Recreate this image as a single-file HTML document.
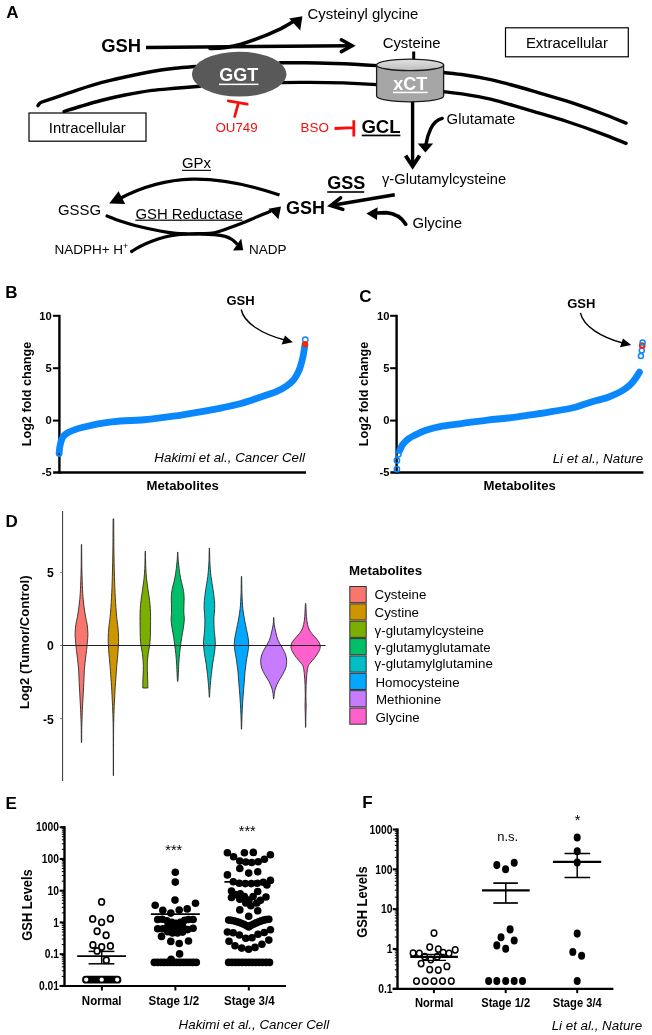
<!DOCTYPE html>
<html lang="en">
<head>
<meta charset="utf-8">
<title>Figure</title>
<style>
html,body{margin:0;padding:0;background:#fff;}
body{width:652px;height:1035px;overflow:hidden;}
svg{display:block;font-family:'Liberation Sans', sans-serif;}
</style>
</head>
<body>
<svg width="652" height="1035" viewBox="0 0 652 1035">
<rect x="0" y="0" width="652" height="1035" fill="#fff"/>
<g id="panelA">
<text x="6.2" y="17.9" font-size="17" font-weight="bold">A</text>
<path d="M37.9 105.6C38.35 105.1 39.22 103.43 40.6 102.6C41.98 101.77 43.65 101.48 46.2 100.6C48.75 99.72 51.1 98.93 55.9 97.3C60.7 95.67 67.48 93.23 75 90.8C82.52 88.37 92.67 85 101 82.7C109.33 80.4 116.5 78.87 125 77C133.5 75.13 143.67 72.95 152 71.5C160.33 70.05 167.67 69.13 175 68.3C182.33 67.47 192.5 66.8 196 66.5" fill="none" stroke="#000" stroke-width="3.4" stroke-linecap="round" stroke-linejoin="round"/>
<path d="M64 111.5C66.67 110.67 73.83 108.33 80 106.5C86.17 104.67 93.5 102.42 101 100.5C108.5 98.58 116.5 96.68 125 95C133.5 93.32 143.67 91.52 152 90.4C160.33 89.28 167 88.98 175 88.3C183 87.62 195.83 86.63 200 86.3" fill="none" stroke="#000" stroke-width="3.4" stroke-linecap="round" stroke-linejoin="round"/>
<path d="M280 62.8 L300 62.8 C320 62.6 350 64 377 65.6" fill="none" stroke="#000" stroke-width="3.4" stroke-linecap="round" stroke-linejoin="round"/>
<path d="M280 82.6 L300 82.4 C320 82.2 350 82.8 377 84.6" fill="none" stroke="#000" stroke-width="3.4" stroke-linecap="round" stroke-linejoin="round"/>
<path d="M443.6 72.5C447.17 72.92 457.37 73.87 465 75C472.63 76.13 481.9 77.72 489.4 79.3C496.9 80.88 502.7 82.53 510 84.5C517.3 86.47 523.7 88.32 533.2 91.1C542.7 93.88 555.75 97.55 567 101.2C578.25 104.85 590.87 109.35 600.7 113C610.53 116.65 621.78 121.42 626 123.1" fill="none" stroke="#000" stroke-width="3.4" stroke-linecap="round" stroke-linejoin="round"/>
<path d="M443.6 91.6C447.17 92.07 457.37 93.18 465 94.4C472.63 95.62 481.9 97.22 489.4 98.9C496.9 100.58 502.7 102.43 510 104.5C517.3 106.57 523.7 108.47 533.2 111.3C542.7 114.13 555.75 117.83 567 121.5C578.25 125.17 590.87 129.65 600.7 133.3C610.53 136.95 621.78 141.72 626 143.4" fill="none" stroke="#000" stroke-width="3.4" stroke-linecap="round" stroke-linejoin="round"/>
<text x="101.2" y="52.4" font-size="18.4" font-weight="bold">GSH</text>
<path d="M146 47.5 L350.5 45.7" fill="none" stroke="#000" stroke-width="3.4"/>
<path d="M341.4 39.8 L352 45.7 L341.4 51.6" fill="none" stroke="#000" stroke-width="3.6" stroke-linecap="round" stroke-linejoin="miter"/>
<path d="M210 48.4 C222 48.6 232 46.8 241 44.2 C256 39.5 270 34 281 28.6 C286 26 290 23.5 294 21" fill="none" stroke="#000" stroke-width="3.6" stroke-linecap="round"/>
<path d="M302.4 16.2 L289.2 18.6 L300.2 30.4 Z" fill="#000"/>
<text x="307.5" y="19.2" font-size="14.9">Cysteinyl glycine</text>
<ellipse cx="239.2" cy="74.2" rx="47.2" ry="22.4" fill="#595959"/>
<text x="238.8" y="81" font-size="18" font-weight="bold" text-anchor="middle" fill="#fff">GGT</text>
<rect x="219" y="83.6" width="39.5" height="1.5" fill="#fff"/>
<path d="M228.2 100.9 L247.2 104.2 M238.5 102.7 L234.7 116.5" fill="none" stroke="#f80c0c" stroke-width="2.8" stroke-linecap="round"/>
<text x="215.5" y="131.8" font-size="13.3" fill="#f80c0c">OU749</text>
<text x="300.6" y="132.3" font-size="13.4" fill="#f80c0c">BSO</text>
<path d="M334.5 128.5 L353.4 127.6 M353.8 120.2 L353.8 136.6" fill="none" stroke="#f80c0c" stroke-width="2.8"/>
<text x="361.4" y="132.7" font-size="18.6" font-weight="bold">GCL</text>
<rect x="361.8" y="134.6" width="38.6" height="1.7" fill="#000"/>
<text x="411.6" y="48.4" font-size="14.9" text-anchor="middle">Cysteine</text>
<line x1="413.7" y1="51.5" x2="413.7" y2="60" stroke="#000" stroke-width="3"/>
<line x1="412.6" y1="99" x2="412.6" y2="165.5" stroke="#000" stroke-width="3.4"/>
<path d="M405.6 155.6 L412.6 166.2 L419.6 155.6" fill="none" stroke="#000" stroke-width="3.8" stroke-linecap="butt" stroke-linejoin="miter" stroke-miterlimit="10"/>
<defs><linearGradient id="cyltop" x1="0" y1="0" x2="0" y2="1"><stop offset="0" stop-color="#e2e2e2"/><stop offset="1" stop-color="#bdbdbd"/></linearGradient></defs>
<path d="M376.6 64.9 L376.6 96 A33.5 5.8 0 0 0 443.6 96 L443.6 64.9 Z" fill="#a6a6a6" stroke="#1a1a1a" stroke-width="1.3"/>
<ellipse cx="410.1" cy="64.9" rx="33.5" ry="5.8" fill="url(#cyltop)" stroke="#1a1a1a" stroke-width="1.3"/>
<text x="410.2" y="89.5" font-size="18" font-weight="bold" text-anchor="middle" fill="#fff">xCT</text>
<rect x="393" y="91.7" width="34.6" height="1.5" fill="#fff"/>
<rect x="505.5" y="27.8" width="122.8" height="29" fill="#fff" stroke="#000" stroke-width="1.2"/>
<text x="566.9" y="47.8" font-size="14.9" text-anchor="middle">Extracellular</text>
<rect x="29" y="113" width="117" height="28.2" fill="#fff" stroke="#000" stroke-width="1.2"/>
<text x="87.3" y="132.6" font-size="14.9" text-anchor="middle">Intracellular</text>
<text x="446.6" y="123.9" font-size="14.9">Glutamate</text>
<path d="M442.2 118.4 C436 120 432.6 124.6 430.6 129 C428.2 134 426.6 140 425.8 145" fill="none" stroke="#000" stroke-width="3.4" stroke-linecap="round"/>
<path d="M425.4 152.6 L417.8 143.6 L433.2 143.6 Z" fill="#000"/>
<text x="382" y="184" font-size="14.7">γ-Glutamylcysteine</text>
<path d="M394.8 194.8 L332.4 205.2" fill="none" stroke="#000" stroke-width="3.4"/>
<path d="M340.6 197.8 L330.8 205.5 L342.8 209.4" fill="none" stroke="#000" stroke-width="3.6" stroke-linecap="round" stroke-linejoin="miter"/>
<text x="327.2" y="188.7" font-size="18" font-weight="bold">GSS</text>
<rect x="327.2" y="191.2" width="37" height="1.6" fill="#000"/>
<text x="286" y="213.8" font-size="18" font-weight="bold">GSH</text>
<text x="412.4" y="228.2" font-size="14.9">Glycine</text>
<path d="M405.8 224.2 C402 218 394.6 213.4 386 212.6 L377 213" fill="none" stroke="#000" stroke-width="3.6" stroke-linecap="round"/>
<path d="M366.4 213.4 L377.6 207.2 L377 220 Z" fill="#000"/>
<text x="182" y="167.8" font-size="14.9">GPx</text>
<rect x="182" y="169.8" width="29" height="1.1" fill="#000"/>
<path d="M279.5 195 C250 185 222 178.5 192 179.2 C165 180 140 188 120 198.5" fill="none" stroke="#000" stroke-width="3.2" stroke-linecap="butt"/>
<path d="M109.2 203.4 L118.6 191.2 L125.2 204 Z" fill="#000"/>
<text x="58" y="215" font-size="14.9">GSSG</text>
<text x="135.4" y="218.7" font-size="14.9">GSH Reductase</text>
<rect x="135.4" y="219.6" width="107" height="1.2" fill="#000"/>
<text x="54.4" y="253.8" font-size="13.5">NADPH+ H<tspan font-size="9" dy="-5">+</tspan></text>
<text x="249" y="253.8" font-size="13.5">NADP</text>
<path d="M107 216C109.17 216.83 115.33 219.42 120 221C124.67 222.58 128.33 223.83 135 225.5C141.67 227.17 153.17 229.68 160 231C166.83 232.32 171.27 232.9 176 233.4C180.73 233.9 184.4 233.9 188.4 234C192.4 234.1 195.7 233.9 200 234C204.3 234.1 210 234.2 214.2 234.6C218.4 235 222.23 235.58 225.2 236.4C228.17 237.22 230.12 238.32 232 239.5C233.88 240.68 235.75 242.83 236.5 243.5" fill="none" stroke="#000" stroke-width="3.2" stroke-linecap="round"/>
<path d="M243.2 250.2 L233 250.4 L241.2 238.4 Z" fill="#000"/>
<path d="M131.6 251.5C133 250.67 136.63 248.2 140 246.5C143.37 244.8 147.63 242.88 151.8 241.3C155.97 239.72 160.63 238.12 165 237C169.37 235.88 174.1 235.1 178 234.6C181.9 234.1 184.73 234.17 188.4 234C192.07 233.83 195.7 233.82 200 233.6C204.3 233.38 209.38 233.62 214.2 232.7C219.02 231.78 224 229.78 228.9 228.1C233.8 226.42 238.7 224.58 243.6 222.6C248.5 220.62 253.9 218.03 258.3 216.2C262.7 214.37 268.05 212.37 270 211.6" fill="none" stroke="#000" stroke-width="3.2" stroke-linecap="round"/>
<path d="M281 206.4 L268.4 208.8 L278.4 219.2 Z" fill="#000"/>
</g>
<g id="panelBC">
<text x="5.3" y="298.2" font-size="17" font-weight="bold">B</text>
<line x1="59.4" y1="314.8" x2="59.4" y2="473.7" stroke="#000" stroke-width="2.4"/>
<line x1="53.1" y1="472.5" x2="306" y2="472.5" stroke="#000" stroke-width="2.4"/>
<line x1="52.9" y1="315.8" x2="59.4" y2="315.8" stroke="#000" stroke-width="2"/>
<text x="51.7" y="319.6" font-size="11.2" font-weight="bold" text-anchor="end">10</text>
<line x1="52.9" y1="368.2" x2="59.4" y2="368.2" stroke="#000" stroke-width="2"/>
<text x="51.7" y="372" font-size="11.2" font-weight="bold" text-anchor="end">5</text>
<line x1="52.9" y1="420.6" x2="59.4" y2="420.6" stroke="#000" stroke-width="2"/>
<text x="51.7" y="424.4" font-size="11.2" font-weight="bold" text-anchor="end">0</text>
<text x="51.7" y="476.3" font-size="11.2" font-weight="bold" text-anchor="end">-5</text>
<text transform="translate(31.1 394) rotate(-90) scale(0.95 1)" font-size="13.3" font-weight="bold" text-anchor="middle" >Log2 fold change</text>
<path d="M59.1 453.5C59.22 452.42 59.38 449.3 59.8 447C60.22 444.7 60.82 441.67 61.6 439.7C62.38 437.73 63.33 436.43 64.5 435.2C65.67 433.97 66.85 433.23 68.6 432.3C70.35 431.37 72.58 430.43 75 429.6C77.42 428.77 78.98 428.3 83.1 427.3C87.22 426.3 93.48 424.65 99.7 423.6C105.92 422.55 113.5 421.6 120.4 421C127.3 420.4 134.2 420.57 141.1 420C148 419.43 154.9 418.47 161.8 417.6C168.7 416.73 175.6 415.83 182.5 414.8C189.4 413.77 196.62 412.57 203.2 411.4C209.78 410.23 215.87 409.07 222 407.8C228.13 406.53 234.95 405.12 240 403.8C245.05 402.48 248.22 401.23 252.3 399.9C256.38 398.57 260.42 397.23 264.5 395.8C268.58 394.37 273.12 392.93 276.8 391.3C280.48 389.67 283.73 388 286.6 386C289.47 384 291.95 381.85 294 379.3C296.05 376.75 297.57 373.77 298.9 370.7C300.23 367.63 301.18 363.97 302 360.9C302.82 357.83 303.33 354.87 303.8 352.3C304.27 349.73 304.63 346.63 304.8 345.5" fill="none" stroke="#0a88fb" stroke-width="6.8" stroke-linecap="round" stroke-linejoin="round"/>
<circle cx="305.3" cy="339.7" r="2.7" fill="#fff" stroke="#0a88fb" stroke-width="1.4"/>
<circle cx="305.1" cy="344.2" r="3.1" fill="#f5260a"/>
<circle cx="59.1" cy="454" r="0.9" fill="#123"/>
<text x="226.4" y="304.8" font-size="13" font-weight="bold">GSH</text>
<path d="M241.2 309.5 C244 323 262 334 284 339.8" fill="none" stroke="#000" stroke-width="1.4"/>
<path d="M292.8 342.3 L281.6 344.4 L285 335.4 Z" fill="#000"/>
<text x="304.9" y="462" font-size="13.35" font-style="italic" text-anchor="end">Hakimi et al., Cancer Cell</text>
<text x="182.7" y="490.4" font-size="13.15" font-weight="bold" text-anchor="middle">Metabolites</text>
<text x="359.3" y="302.4" font-size="17" font-weight="bold">C</text>
<line x1="396.6" y1="314.8" x2="396.6" y2="473.7" stroke="#000" stroke-width="2.4"/>
<line x1="390.3" y1="472.5" x2="643.4" y2="472.5" stroke="#000" stroke-width="2.4"/>
<line x1="390.1" y1="315.8" x2="396.6" y2="315.8" stroke="#000" stroke-width="2"/>
<text x="389.4" y="319.6" font-size="11.2" font-weight="bold" text-anchor="end">10</text>
<line x1="390.1" y1="368.2" x2="396.6" y2="368.2" stroke="#000" stroke-width="2"/>
<text x="389.4" y="372" font-size="11.2" font-weight="bold" text-anchor="end">5</text>
<line x1="390.1" y1="420.6" x2="396.6" y2="420.6" stroke="#000" stroke-width="2"/>
<text x="389.4" y="424.4" font-size="11.2" font-weight="bold" text-anchor="end">0</text>
<text x="389.4" y="476.3" font-size="11.2" font-weight="bold" text-anchor="end">-5</text>
<text transform="translate(368.4 394) rotate(-90) scale(0.95 1)" font-size="13.3" font-weight="bold" text-anchor="middle" >Log2 fold change</text>
<path d="M400.6 448.8C400.93 448.1 401.78 445.83 402.6 444.6C403.42 443.37 404.43 442.43 405.5 441.4C406.57 440.37 407.63 439.35 409 438.4C410.37 437.45 410.87 437.05 413.7 435.7C416.53 434.35 421.23 431.88 426 430.3C430.77 428.72 436.17 427.35 442.3 426.2C448.43 425.05 455.28 424.42 462.8 423.4C470.32 422.38 479.88 421 487.4 420.1C494.92 419.2 501.08 418.82 507.9 418C514.72 417.18 521.48 416.18 528.3 415.2C535.12 414.22 541.52 413.3 548.8 412.1C556.08 410.9 566.08 409.3 572 408C577.92 406.7 580.22 405.53 584.3 404.3C588.38 403.07 592.42 401.82 596.5 400.6C600.58 399.38 604.7 398.53 608.8 397C612.9 395.47 617.62 393.35 621.1 391.4C624.58 389.45 627.25 387.55 629.7 385.3C632.15 383.05 634.18 380.08 635.8 377.9C637.42 375.72 638.8 373.15 639.4 372.2" fill="none" stroke="#0a88fb" stroke-width="6.8" stroke-linecap="round" stroke-linejoin="round"/>
<circle cx="396.9" cy="469.2" r="2.6" fill="none" stroke="#0a88fb" stroke-width="1.5"/>
<circle cx="396.9" cy="460.4" r="2.6" fill="none" stroke="#0a88fb" stroke-width="1.5"/>
<circle cx="398.4" cy="454.3" r="2.6" fill="none" stroke="#0a88fb" stroke-width="1.5"/>
<circle cx="399.6" cy="450.5" r="2.6" fill="none" stroke="#0a88fb" stroke-width="1.5"/>
<circle cx="640.9" cy="356" r="2.5" fill="#fff" stroke="#0a88fb" stroke-width="1.5"/>
<circle cx="641.8" cy="350.6" r="2.5" fill="#fff" stroke="#0a88fb" stroke-width="1.5"/>
<circle cx="642.2" cy="345.6" r="2.3" fill="#fff" stroke="#f5260a" stroke-width="2.2"/>
<circle cx="642.6" cy="342.4" r="2.5" fill="none" stroke="#0a88fb" stroke-width="1.5"/>
<text x="567.2" y="308" font-size="13" font-weight="bold">GSH</text>
<path d="M580.4 312.8 C583.6 326.6 601 337 622.6 343" fill="none" stroke="#000" stroke-width="1.4"/>
<path d="M631.2 345 L620 347.3 L623 338.4 Z" fill="#000"/>
<text x="643.2" y="462.6" font-size="13.35" font-style="italic" text-anchor="end">Li et al., Nature</text>
<text x="519.7" y="490.4" font-size="13.15" font-weight="bold" text-anchor="middle">Metabolites</text>
</g>
<g id="panelD">
<text x="5.6" y="526.6" font-size="17" font-weight="bold">D</text>
<line x1="62.6" y1="511" x2="62.6" y2="781" stroke="#333" stroke-width="1"/>
<line x1="60.2" y1="572.4" x2="62.6" y2="572.4" stroke="#777" stroke-width="1"/>
<text x="53.8" y="577" font-size="12.2" font-weight="bold" text-anchor="end">5</text>
<line x1="60.2" y1="645.5" x2="62.6" y2="645.5" stroke="#777" stroke-width="1"/>
<text x="53.8" y="650.2" font-size="12.2" font-weight="bold" text-anchor="end">0</text>
<line x1="60.2" y1="718.6" x2="62.6" y2="718.6" stroke="#777" stroke-width="1"/>
<text x="53.8" y="724.2" font-size="12.2" font-weight="bold" text-anchor="end">-5</text>
<text transform="translate(29.3 642.2) rotate(-90)" font-size="13.1" font-weight="bold" text-anchor="middle" >Log2 (Tumor/Control)</text>
<path d="M81.35 544.5C81.33 547.08 81.29 555.58 81.25 560C81.21 564.42 81.23 566.05 81.1 571C80.96 575.95 80.72 584.37 80.44 589.7C80.16 595.03 79.89 598.57 79.4 603C78.91 607.43 78.08 612.75 77.5 616.3C76.92 619.85 76.3 621.43 75.9 624.3C75.5 627.17 75.13 630.4 75.1 633.5C75.07 636.6 75.52 640.45 75.7 642.9C75.88 645.35 75.9 645.55 76.2 648.2C76.5 650.85 77.1 655.27 77.5 658.8C77.9 662.33 78.32 665.42 78.6 669.4C78.88 673.38 78.98 678.27 79.2 682.7C79.42 687.13 79.67 691.57 79.9 696C80.13 700.43 80.4 704.87 80.6 709.3C80.8 713.73 80.98 718.82 81.1 722.6C81.22 726.38 81.26 728.68 81.3 732C81.34 735.32 81.34 740.75 81.35 742.5 L81.65 742.5C81.66 740.75 81.66 735.32 81.7 732C81.74 728.68 81.78 726.38 81.9 722.6C82.02 718.82 82.2 713.73 82.4 709.3C82.6 704.87 82.87 700.43 83.1 696C83.33 691.57 83.58 687.13 83.8 682.7C84.02 678.27 84.12 673.38 84.4 669.4C84.68 665.42 85.1 662.33 85.5 658.8C85.9 655.27 86.5 650.85 86.8 648.2C87.1 645.55 87.12 645.35 87.3 642.9C87.48 640.45 87.93 636.6 87.9 633.5C87.87 630.4 87.5 627.17 87.1 624.3C86.7 621.43 86.08 619.85 85.5 616.3C84.92 612.75 84.09 607.43 83.6 603C83.11 598.57 82.84 595.03 82.56 589.7C82.28 584.37 82.04 575.95 81.9 571C81.77 566.05 81.79 564.42 81.75 560C81.71 555.58 81.67 547.08 81.65 544.5 Z" fill="#F8766D" stroke="#2b2b2b" stroke-width="0.9" stroke-linejoin="round"/>
<path d="M113.1 518.8C113.08 521.5 113.03 529.8 113 535C112.97 540.2 113.01 543.1 112.9 550C112.79 556.9 112.57 568.45 112.34 576.4C112.11 584.35 111.86 591.05 111.5 597.7C111.14 604.35 110.63 611.43 110.2 616.3C109.77 621.17 109.23 623.37 108.9 626.9C108.57 630.43 108.28 634.4 108.2 637.5C108.12 640.6 108.28 642.83 108.4 645.5C108.52 648.17 108.65 650.4 108.9 653.5C109.15 656.6 109.6 660.57 109.9 664.1C110.2 667.63 110.38 670.27 110.7 674.7C111.02 679.13 111.48 685.38 111.8 690.7C112.12 696.02 112.38 701.28 112.6 706.6C112.82 711.92 112.99 717.03 113.1 722.6C113.21 728.17 113.22 731.15 113.25 740C113.28 748.85 113.29 769.75 113.3 775.7 L113.5 775.7C113.51 769.75 113.52 748.85 113.55 740C113.58 731.15 113.59 728.17 113.7 722.6C113.81 717.03 113.98 711.92 114.2 706.6C114.42 701.28 114.68 696.02 115 690.7C115.32 685.38 115.78 679.13 116.1 674.7C116.42 670.27 116.6 667.63 116.9 664.1C117.2 660.57 117.65 656.6 117.9 653.5C118.15 650.4 118.28 648.17 118.4 645.5C118.52 642.83 118.68 640.6 118.6 637.5C118.52 634.4 118.23 630.43 117.9 626.9C117.57 623.37 117.03 621.17 116.6 616.3C116.17 611.43 115.66 604.35 115.3 597.7C114.94 591.05 114.69 584.35 114.46 576.4C114.23 568.45 114.01 556.9 113.9 550C113.79 543.1 113.83 540.2 113.8 535C113.77 529.8 113.72 521.5 113.7 518.8 Z" fill="#CD9600" stroke="#2b2b2b" stroke-width="0.9" stroke-linejoin="round"/>
<path d="M145.15 551.2C145.12 552.67 145.06 557.12 145 560C144.94 562.88 144.97 565.33 144.8 568.5C144.63 571.67 144.37 575.47 144 579C143.63 582.53 143.1 586.15 142.6 589.7C142.1 593.25 141.38 597.2 141 600.3C140.62 603.4 140.47 605.63 140.3 608.3C140.13 610.97 140.03 613.2 140 616.3C139.97 619.4 140.05 623.37 140.1 626.9C140.15 630.43 140.15 634.4 140.3 637.5C140.45 640.6 140.65 642.83 141 645.5C141.35 648.17 142.03 650.83 142.4 653.5C142.77 656.17 143.05 658.85 143.2 661.5C143.35 664.15 143.35 666.32 143.3 669.4C143.25 672.48 142.99 677.33 142.9 680C142.81 682.67 142.77 684.07 142.75 685.4C142.73 686.73 142.79 687.57 142.8 688 L147.8 688C147.81 687.57 147.87 686.73 147.85 685.4C147.83 684.07 147.79 682.67 147.7 680C147.61 677.33 147.35 672.48 147.3 669.4C147.25 666.32 147.25 664.15 147.4 661.5C147.55 658.85 147.83 656.17 148.2 653.5C148.57 650.83 149.25 648.17 149.6 645.5C149.95 642.83 150.15 640.6 150.3 637.5C150.45 634.4 150.45 630.43 150.5 626.9C150.55 623.37 150.63 619.4 150.6 616.3C150.57 613.2 150.47 610.97 150.3 608.3C150.13 605.63 149.98 603.4 149.6 600.3C149.22 597.2 148.5 593.25 148 589.7C147.5 586.15 146.97 582.53 146.6 579C146.23 575.47 145.97 571.67 145.8 568.5C145.63 565.33 145.66 562.88 145.6 560C145.54 557.12 145.48 552.67 145.45 551.2 Z" fill="#7CAE00" stroke="#2b2b2b" stroke-width="0.9" stroke-linejoin="round"/>
<path d="M177.55 552C177.51 553 177.41 556.17 177.3 558C177.19 559.83 177.18 560.37 176.9 563C176.62 565.63 176.08 570.68 175.6 573.8C175.12 576.92 174.58 579.05 174 581.7C173.42 584.35 172.55 587.03 172.1 589.7C171.65 592.37 171.38 594.15 171.3 597.7C171.22 601.25 171.63 607.45 171.6 611C171.57 614.55 171.05 616.35 171.1 619C171.15 621.65 171.47 623.82 171.9 626.9C172.33 629.98 173.22 634.4 173.7 637.5C174.18 640.6 174.45 642.83 174.8 645.5C175.15 648.17 175.49 650.4 175.8 653.5C176.11 656.6 176.42 660.57 176.64 664.1C176.86 667.63 176.96 671.82 177.1 674.7C177.24 677.58 177.43 680.28 177.5 681.4 L177.9 681.4C177.97 680.28 178.16 677.58 178.3 674.7C178.44 671.82 178.54 667.63 178.76 664.1C178.98 660.57 179.29 656.6 179.6 653.5C179.91 650.4 180.25 648.17 180.6 645.5C180.95 642.83 181.22 640.6 181.7 637.5C182.18 634.4 183.07 629.98 183.5 626.9C183.93 623.82 184.25 621.65 184.3 619C184.35 616.35 183.83 614.55 183.8 611C183.77 607.45 184.18 601.25 184.1 597.7C184.02 594.15 183.75 592.37 183.3 589.7C182.85 587.03 181.98 584.35 181.4 581.7C180.82 579.05 180.28 576.92 179.8 573.8C179.32 570.68 178.78 565.63 178.5 563C178.22 560.37 178.21 559.83 178.1 558C177.99 556.17 177.89 553 177.85 552 Z" fill="#00BE67" stroke="#2b2b2b" stroke-width="0.9" stroke-linejoin="round"/>
<path d="M209.25 548C209.22 549.33 209.16 553.5 209.1 556C209.04 558.5 209.12 559.6 208.9 563C208.68 566.4 208.33 571.95 207.8 576.4C207.27 580.85 206.27 585.72 205.7 589.7C205.13 593.68 204.67 597.2 204.4 600.3C204.13 603.4 204.02 605.18 204.1 608.3C204.18 611.42 204.82 615.45 204.9 619C204.98 622.55 204.82 626.07 204.6 629.6C204.38 633.13 203.77 637.55 203.6 640.2C203.43 642.85 203.47 643.28 203.6 645.5C203.73 647.72 203.97 650.42 204.4 653.5C204.83 656.58 205.68 660.47 206.2 664C206.72 667.53 207.12 671.13 207.5 674.7C207.88 678.27 208.25 682.52 208.5 685.4C208.75 688.28 208.88 690.02 209 692C209.12 693.98 209.21 696.42 209.25 697.3 L209.55 697.3C209.59 696.42 209.68 693.98 209.8 692C209.93 690.02 210.05 688.28 210.3 685.4C210.55 682.52 210.92 678.27 211.3 674.7C211.68 671.13 212.08 667.53 212.6 664C213.12 660.47 213.97 656.58 214.4 653.5C214.83 650.42 215.07 647.72 215.2 645.5C215.33 643.28 215.37 642.85 215.2 640.2C215.03 637.55 214.42 633.13 214.2 629.6C213.98 626.07 213.82 622.55 213.9 619C213.98 615.45 214.62 611.42 214.7 608.3C214.78 605.18 214.67 603.4 214.4 600.3C214.13 597.2 213.67 593.68 213.1 589.7C212.53 585.72 211.53 580.85 211 576.4C210.47 571.95 210.12 566.4 209.9 563C209.68 559.6 209.76 558.5 209.7 556C209.64 553.5 209.58 549.33 209.55 548 Z" fill="#00BFC4" stroke="#2b2b2b" stroke-width="0.9" stroke-linejoin="round"/>
<path d="M241.35 576.4C241.32 578 241.26 582.9 241.2 586C241.14 589.1 241.17 591.28 241 595C240.83 598.72 240.6 604.3 240.2 608.3C239.8 612.3 239.22 615.45 238.6 619C237.98 622.55 237.12 626.52 236.5 629.6C235.88 632.68 235.27 635.07 234.9 637.5C234.53 639.93 234.3 641.98 234.3 644.2C234.3 646.42 234.5 647.92 234.9 650.8C235.3 653.68 236.18 657.97 236.7 661.5C237.22 665.03 237.65 668.47 238 672C238.35 675.53 238.48 678.7 238.8 682.7C239.12 686.7 239.58 691.57 239.9 696C240.22 700.43 240.49 705.3 240.7 709.3C240.91 713.3 241.04 716.68 241.15 720C241.26 723.32 241.32 727.67 241.35 729.2 L241.65 729.2C241.68 727.67 241.74 723.32 241.85 720C241.96 716.68 242.09 713.3 242.3 709.3C242.51 705.3 242.78 700.43 243.1 696C243.42 691.57 243.88 686.7 244.2 682.7C244.52 678.7 244.65 675.53 245 672C245.35 668.47 245.78 665.03 246.3 661.5C246.82 657.97 247.7 653.68 248.1 650.8C248.5 647.92 248.7 646.42 248.7 644.2C248.7 641.98 248.47 639.93 248.1 637.5C247.73 635.07 247.12 632.68 246.5 629.6C245.88 626.52 245.02 622.55 244.4 619C243.78 615.45 243.2 612.3 242.8 608.3C242.4 604.3 242.17 598.72 242 595C241.83 591.28 241.86 589.1 241.8 586C241.74 582.9 241.68 578 241.65 576.4 Z" fill="#00A9FF" stroke="#2b2b2b" stroke-width="0.9" stroke-linejoin="round"/>
<path d="M273.5 617.6C273.45 618.72 273.52 621.87 273.2 624.3C272.88 626.73 272.23 629.55 271.6 632.2C270.97 634.85 270.52 637.53 269.4 640.2C268.28 642.87 266.18 645.77 264.9 648.2C263.62 650.63 262.4 652.58 261.7 654.8C261 657.02 260.7 659.28 260.7 661.5C260.7 663.72 261 665.9 261.7 668.1C262.4 670.3 263.7 672.48 264.9 674.7C266.1 676.92 267.75 679.18 268.9 681.4C270.05 683.62 271.12 686.02 271.8 688C272.48 689.98 272.72 691.52 273 693.3C273.28 695.08 273.42 697.8 273.5 698.7 L273.9 698.7C273.98 697.8 274.12 695.08 274.4 693.3C274.68 691.52 274.92 689.98 275.6 688C276.28 686.02 277.35 683.62 278.5 681.4C279.65 679.18 281.3 676.92 282.5 674.7C283.7 672.48 285 670.3 285.7 668.1C286.4 665.9 286.7 663.72 286.7 661.5C286.7 659.28 286.4 657.02 285.7 654.8C285 652.58 283.78 650.63 282.5 648.2C281.22 645.77 279.12 642.87 278 640.2C276.88 637.53 276.43 634.85 275.8 632.2C275.17 629.55 274.52 626.73 274.2 624.3C273.88 621.87 273.95 618.72 273.9 617.6 Z" fill="#C77CFF" stroke="#2b2b2b" stroke-width="0.9" stroke-linejoin="round"/>
<path d="M305.4 603.5C305.35 604.58 305.2 607.87 305.1 610C305 612.13 305.03 613.92 304.8 616.3C304.57 618.68 304.28 621.87 303.7 624.3C303.12 626.73 302.4 628.92 301.3 630.9C300.2 632.88 298.55 634.43 297.1 636.2C295.65 637.97 293.62 639.87 292.6 641.5C291.58 643.13 291.1 644.45 291 646C290.9 647.55 291.12 648.88 292 650.8C292.88 652.72 294.83 655.5 296.3 657.5C297.77 659.5 299.65 661.25 300.8 662.8C301.95 664.35 302.6 664.82 303.2 666.8C303.8 668.78 304.08 671.6 304.4 674.7C304.72 677.8 304.95 681.85 305.1 685.4C305.25 688.95 305.31 692.47 305.3 696C305.29 699.53 305.05 703.5 305.05 706.6C305.05 709.7 305.23 711.15 305.3 714.6C305.37 718.05 305.43 725.18 305.45 727.3 L305.75 727.3C305.77 725.18 305.83 718.05 305.9 714.6C305.97 711.15 306.15 709.7 306.15 706.6C306.15 703.5 305.91 699.53 305.9 696C305.89 692.47 305.95 688.95 306.1 685.4C306.25 681.85 306.48 677.8 306.8 674.7C307.12 671.6 307.4 668.78 308 666.8C308.6 664.82 309.25 664.35 310.4 662.8C311.55 661.25 313.43 659.5 314.9 657.5C316.37 655.5 318.32 652.72 319.2 650.8C320.08 648.88 320.3 647.55 320.2 646C320.1 644.45 319.62 643.13 318.6 641.5C317.58 639.87 315.55 637.97 314.1 636.2C312.65 634.43 311 632.88 309.9 630.9C308.8 628.92 308.08 626.73 307.5 624.3C306.92 621.87 306.63 618.68 306.4 616.3C306.17 613.92 306.2 612.13 306.1 610C306 607.87 305.85 604.58 305.8 603.5 Z" fill="#FF61CC" stroke="#2b2b2b" stroke-width="0.9" stroke-linejoin="round"/>
<line x1="62.6" y1="645.5" x2="325.5" y2="645.5" stroke="#222" stroke-width="1"/>
<text x="349" y="574.8" font-size="13.3" font-weight="bold">Metabolites</text>
<rect x="349.8" y="586.5" width="16.4" height="16.16" fill="#F8766D" stroke="#333" stroke-width="1"/>
<text x="374.6" y="599.1" font-size="13.3">Cysteine</text>
<rect x="349.8" y="603.86" width="16.4" height="16.16" fill="#CD9600" stroke="#333" stroke-width="1"/>
<text x="374.6" y="617.1" font-size="13.3">Cystine</text>
<rect x="349.8" y="621.22" width="16.4" height="16.16" fill="#7CAE00" stroke="#333" stroke-width="1"/>
<text x="374.6" y="634.7" font-size="13.3">γ-glutamylcysteine</text>
<rect x="349.8" y="638.58" width="16.4" height="16.16" fill="#00BE67" stroke="#333" stroke-width="1"/>
<text x="374.6" y="652.1" font-size="13.3">γ-glutamyglutamate</text>
<rect x="349.8" y="655.94" width="16.4" height="16.16" fill="#00BFC4" stroke="#333" stroke-width="1"/>
<text x="374.6" y="668.3" font-size="13.3">γ-glutamylglutamine</text>
<rect x="349.8" y="673.3" width="16.4" height="16.16" fill="#00A9FF" stroke="#333" stroke-width="1"/>
<text x="375.4" y="686.6" font-size="13.3">Homocysteine</text>
<rect x="349.8" y="690.66" width="16.4" height="16.16" fill="#C77CFF" stroke="#333" stroke-width="1"/>
<text x="376" y="704" font-size="13.3">Methionine</text>
<rect x="349.8" y="708.02" width="16.4" height="16.16" fill="#FF61CC" stroke="#333" stroke-width="1"/>
<text x="375.4" y="721.9" font-size="13.3">Glycine</text>
</g>
<g id="panelEF">
<text x="5.4" y="809.4" font-size="17" font-weight="bold">E</text>
<line x1="64.5" y1="826.1" x2="64.5" y2="987.05" stroke="#000" stroke-width="2.4"/>
<line x1="59.7" y1="985.95" x2="286" y2="985.95" stroke="#000" stroke-width="1.9"/>
<line x1="59.7" y1="827.2" x2="64.5" y2="827.2" stroke="#000" stroke-width="2.1"/>
<text x="59" y="831.4" font-size="12" font-weight="bold" text-anchor="end" transform="translate(59 0) scale(0.86 1) translate(-59 0)">1000</text>
<line x1="61.8" y1="849.39" x2="64.5" y2="849.39" stroke="#000" stroke-width="1"/>
<line x1="61.8" y1="843.8" x2="64.5" y2="843.8" stroke="#000" stroke-width="1"/>
<line x1="61.8" y1="839.83" x2="64.5" y2="839.83" stroke="#000" stroke-width="1"/>
<line x1="61.8" y1="836.76" x2="64.5" y2="836.76" stroke="#000" stroke-width="1"/>
<line x1="61.8" y1="834.24" x2="64.5" y2="834.24" stroke="#000" stroke-width="1"/>
<line x1="61.8" y1="832.12" x2="64.5" y2="832.12" stroke="#000" stroke-width="1"/>
<line x1="61.8" y1="830.28" x2="64.5" y2="830.28" stroke="#000" stroke-width="1"/>
<line x1="61.8" y1="828.65" x2="64.5" y2="828.65" stroke="#000" stroke-width="1"/>
<line x1="59.7" y1="858.95" x2="64.5" y2="858.95" stroke="#000" stroke-width="2.1"/>
<text x="59" y="863.15" font-size="12" font-weight="bold" text-anchor="end" transform="translate(59 0) scale(0.86 1) translate(-59 0)">100</text>
<line x1="61.8" y1="881.14" x2="64.5" y2="881.14" stroke="#000" stroke-width="1"/>
<line x1="61.8" y1="875.55" x2="64.5" y2="875.55" stroke="#000" stroke-width="1"/>
<line x1="61.8" y1="871.58" x2="64.5" y2="871.58" stroke="#000" stroke-width="1"/>
<line x1="61.8" y1="868.51" x2="64.5" y2="868.51" stroke="#000" stroke-width="1"/>
<line x1="61.8" y1="865.99" x2="64.5" y2="865.99" stroke="#000" stroke-width="1"/>
<line x1="61.8" y1="863.87" x2="64.5" y2="863.87" stroke="#000" stroke-width="1"/>
<line x1="61.8" y1="862.03" x2="64.5" y2="862.03" stroke="#000" stroke-width="1"/>
<line x1="61.8" y1="860.4" x2="64.5" y2="860.4" stroke="#000" stroke-width="1"/>
<line x1="59.7" y1="890.7" x2="64.5" y2="890.7" stroke="#000" stroke-width="2.1"/>
<text x="59" y="894.9" font-size="12" font-weight="bold" text-anchor="end" transform="translate(59 0) scale(0.86 1) translate(-59 0)">10</text>
<line x1="61.8" y1="912.89" x2="64.5" y2="912.89" stroke="#000" stroke-width="1"/>
<line x1="61.8" y1="907.3" x2="64.5" y2="907.3" stroke="#000" stroke-width="1"/>
<line x1="61.8" y1="903.33" x2="64.5" y2="903.33" stroke="#000" stroke-width="1"/>
<line x1="61.8" y1="900.26" x2="64.5" y2="900.26" stroke="#000" stroke-width="1"/>
<line x1="61.8" y1="897.74" x2="64.5" y2="897.74" stroke="#000" stroke-width="1"/>
<line x1="61.8" y1="895.62" x2="64.5" y2="895.62" stroke="#000" stroke-width="1"/>
<line x1="61.8" y1="893.78" x2="64.5" y2="893.78" stroke="#000" stroke-width="1"/>
<line x1="61.8" y1="892.15" x2="64.5" y2="892.15" stroke="#000" stroke-width="1"/>
<line x1="59.7" y1="922.45" x2="64.5" y2="922.45" stroke="#000" stroke-width="2.1"/>
<text x="59" y="926.65" font-size="12" font-weight="bold" text-anchor="end" transform="translate(59 0) scale(0.86 1) translate(-59 0)">1</text>
<line x1="61.8" y1="944.64" x2="64.5" y2="944.64" stroke="#000" stroke-width="1"/>
<line x1="61.8" y1="939.05" x2="64.5" y2="939.05" stroke="#000" stroke-width="1"/>
<line x1="61.8" y1="935.08" x2="64.5" y2="935.08" stroke="#000" stroke-width="1"/>
<line x1="61.8" y1="932.01" x2="64.5" y2="932.01" stroke="#000" stroke-width="1"/>
<line x1="61.8" y1="929.49" x2="64.5" y2="929.49" stroke="#000" stroke-width="1"/>
<line x1="61.8" y1="927.37" x2="64.5" y2="927.37" stroke="#000" stroke-width="1"/>
<line x1="61.8" y1="925.53" x2="64.5" y2="925.53" stroke="#000" stroke-width="1"/>
<line x1="61.8" y1="923.9" x2="64.5" y2="923.9" stroke="#000" stroke-width="1"/>
<line x1="59.7" y1="954.2" x2="64.5" y2="954.2" stroke="#000" stroke-width="2.1"/>
<text x="59" y="958.4" font-size="12" font-weight="bold" text-anchor="end" transform="translate(59 0) scale(0.86 1) translate(-59 0)">0.1</text>
<line x1="61.8" y1="976.39" x2="64.5" y2="976.39" stroke="#000" stroke-width="1"/>
<line x1="61.8" y1="970.8" x2="64.5" y2="970.8" stroke="#000" stroke-width="1"/>
<line x1="61.8" y1="966.83" x2="64.5" y2="966.83" stroke="#000" stroke-width="1"/>
<line x1="61.8" y1="963.76" x2="64.5" y2="963.76" stroke="#000" stroke-width="1"/>
<line x1="61.8" y1="961.24" x2="64.5" y2="961.24" stroke="#000" stroke-width="1"/>
<line x1="61.8" y1="959.12" x2="64.5" y2="959.12" stroke="#000" stroke-width="1"/>
<line x1="61.8" y1="957.28" x2="64.5" y2="957.28" stroke="#000" stroke-width="1"/>
<line x1="61.8" y1="955.65" x2="64.5" y2="955.65" stroke="#000" stroke-width="1"/>
<line x1="59.7" y1="985.95" x2="64.5" y2="985.95" stroke="#000" stroke-width="2.1"/>
<text x="59" y="990.15" font-size="12" font-weight="bold" text-anchor="end" transform="translate(59 0) scale(0.86 1) translate(-59 0)">0.01</text>
<text transform="translate(31.6 905) rotate(-90) scale(0.91 1)" font-size="14.1" font-weight="bold" text-anchor="middle" >GSH Levels</text>
<line x1="101.9" y1="986" x2="101.9" y2="990.5" stroke="#000" stroke-width="2"/>
<text x="101.7" y="1004.8" font-size="12" font-weight="bold" text-anchor="middle" transform="translate(101.7 0) scale(0.96 1) translate(-101.7 0)">Normal</text>
<line x1="175.4" y1="986" x2="175.4" y2="990.5" stroke="#000" stroke-width="2"/>
<text x="173.8" y="1004.8" font-size="12" font-weight="bold" text-anchor="middle" transform="translate(173.8 0) scale(0.96 1) translate(-173.8 0)">Stage 1/2</text>
<line x1="248.8" y1="986" x2="248.8" y2="990.5" stroke="#000" stroke-width="2"/>
<text x="249.3" y="1004.8" font-size="12" font-weight="bold" text-anchor="middle" transform="translate(249.3 0) scale(0.96 1) translate(-249.3 0)">Stage 3/4</text>
<line x1="77.2" y1="956.2" x2="126" y2="956.2" stroke="#000" stroke-width="1.7"/>
<line x1="88.6" y1="951.4" x2="114.4" y2="951.4" stroke="#000" stroke-width="1.5"/>
<line x1="88.6" y1="963.8" x2="114.4" y2="963.8" stroke="#000" stroke-width="1.5"/>
<line x1="101.7" y1="951.4" x2="101.7" y2="963.8" stroke="#000" stroke-width="1.5"/>
<ellipse cx="101.6" cy="901.9" rx="2.85" ry="3.1" fill="#fff" stroke="#000" stroke-width="1.65"/>
<ellipse cx="92.7" cy="918.9" rx="2.85" ry="3.1" fill="#fff" stroke="#000" stroke-width="1.65"/>
<ellipse cx="110.4" cy="918.7" rx="2.85" ry="3.1" fill="#fff" stroke="#000" stroke-width="1.65"/>
<ellipse cx="101.6" cy="922.3" rx="2.85" ry="3.1" fill="#fff" stroke="#000" stroke-width="1.65"/>
<ellipse cx="97.1" cy="931.2" rx="2.85" ry="3.1" fill="#fff" stroke="#000" stroke-width="1.65"/>
<ellipse cx="106.1" cy="935.2" rx="2.85" ry="3.1" fill="#fff" stroke="#000" stroke-width="1.65"/>
<ellipse cx="92.9" cy="945" rx="2.85" ry="3.1" fill="#fff" stroke="#000" stroke-width="1.65"/>
<ellipse cx="101.7" cy="947" rx="2.85" ry="3.1" fill="#fff" stroke="#000" stroke-width="1.65"/>
<ellipse cx="110.4" cy="945.9" rx="2.85" ry="3.1" fill="#fff" stroke="#000" stroke-width="1.65"/>
<ellipse cx="97.1" cy="950.9" rx="2.85" ry="3.1" fill="#fff" stroke="#000" stroke-width="1.65"/>
<ellipse cx="106.3" cy="960.2" rx="2.85" ry="3.1" fill="#fff" stroke="#000" stroke-width="1.65"/>
<rect x="82.1" y="975.8" width="39.2" height="7.8" rx="3.7" fill="#000"/>
<circle cx="86.2" cy="979.7" r="2.15" fill="#fff"/>
<circle cx="101.7" cy="979.7" r="2.15" fill="#fff"/>
<circle cx="117.2" cy="979.7" r="2.15" fill="#fff"/>
<circle cx="175.3" cy="872.2" r="3.8" fill="#000"/>
<circle cx="175.3" cy="882.1" r="3.8" fill="#000"/>
<circle cx="175" cy="900.1" r="3.8" fill="#000"/>
<circle cx="155.2" cy="905.3" r="3.8" fill="#000"/>
<circle cx="195.5" cy="903.3" r="3.8" fill="#000"/>
<circle cx="162.8" cy="910.2" r="3.8" fill="#000"/>
<circle cx="179.2" cy="910" r="3.8" fill="#000"/>
<circle cx="187.2" cy="908.9" r="3.8" fill="#000"/>
<circle cx="170.8" cy="913.1" r="3.8" fill="#000"/>
<circle cx="157.7" cy="919.5" r="3.8" fill="#000"/>
<circle cx="162.3" cy="919.2" r="3.8" fill="#000"/>
<circle cx="167" cy="920.7" r="3.8" fill="#000"/>
<circle cx="171.6" cy="922.4" r="3.8" fill="#000"/>
<circle cx="175.8" cy="923.3" r="3.8" fill="#000"/>
<circle cx="180.5" cy="922.4" r="3.8" fill="#000"/>
<circle cx="184.7" cy="920.3" r="3.8" fill="#000"/>
<circle cx="188.5" cy="919.5" r="3.8" fill="#000"/>
<circle cx="193.1" cy="919.5" r="3.8" fill="#000"/>
<circle cx="157.7" cy="928.8" r="3.8" fill="#000"/>
<circle cx="162.8" cy="928.8" r="3.8" fill="#000"/>
<circle cx="167.8" cy="931.7" r="3.8" fill="#000"/>
<circle cx="172.5" cy="933" r="3.8" fill="#000"/>
<circle cx="177.5" cy="933" r="3.8" fill="#000"/>
<circle cx="182.6" cy="932.1" r="3.8" fill="#000"/>
<circle cx="187.7" cy="929.6" r="3.8" fill="#000"/>
<circle cx="193.1" cy="928.3" r="3.8" fill="#000"/>
<circle cx="172.5" cy="927.5" r="3.8" fill="#000"/>
<circle cx="177.5" cy="927.5" r="3.8" fill="#000"/>
<circle cx="182.6" cy="926.2" r="3.8" fill="#000"/>
<circle cx="167.8" cy="926.2" r="3.8" fill="#000"/>
<circle cx="161.5" cy="936.4" r="3.8" fill="#000"/>
<circle cx="170.8" cy="941.4" r="3.8" fill="#000"/>
<circle cx="179.2" cy="943.5" r="3.8" fill="#000"/>
<circle cx="188.5" cy="941" r="3.8" fill="#000"/>
<circle cx="179.6" cy="953.9" r="3.8" fill="#000"/>
<circle cx="171.1" cy="959.2" r="3.8" fill="#000"/>
<circle cx="154.3" cy="962.4" r="3.8" fill="#000"/>
<circle cx="157.53" cy="962.4" r="3.8" fill="#000"/>
<circle cx="160.76" cy="962.4" r="3.8" fill="#000"/>
<circle cx="163.99" cy="962.4" r="3.8" fill="#000"/>
<circle cx="167.22" cy="962.4" r="3.8" fill="#000"/>
<circle cx="170.45" cy="962.4" r="3.8" fill="#000"/>
<circle cx="173.68" cy="962.4" r="3.8" fill="#000"/>
<circle cx="176.92" cy="962.4" r="3.8" fill="#000"/>
<circle cx="180.15" cy="962.4" r="3.8" fill="#000"/>
<circle cx="183.38" cy="962.4" r="3.8" fill="#000"/>
<circle cx="186.61" cy="962.4" r="3.8" fill="#000"/>
<circle cx="189.84" cy="962.4" r="3.8" fill="#000"/>
<circle cx="193.07" cy="962.4" r="3.8" fill="#000"/>
<circle cx="196.3" cy="962.4" r="3.8" fill="#000"/>
<line x1="150.8" y1="914.1" x2="199.8" y2="914.1" stroke="#000" stroke-width="1.7"/>
<text x="173.8" y="854.6" font-size="14.5" text-anchor="middle">***</text>
<circle cx="227.4" cy="852.8" r="3.8" fill="#000"/>
<circle cx="244.4" cy="852.8" r="3.8" fill="#000"/>
<circle cx="253.3" cy="852.4" r="3.8" fill="#000"/>
<circle cx="270.4" cy="854.7" r="3.8" fill="#000"/>
<circle cx="233.6" cy="856.7" r="3.8" fill="#000"/>
<circle cx="264.4" cy="859.3" r="3.8" fill="#000"/>
<circle cx="239.8" cy="861.1" r="3.8" fill="#000"/>
<circle cx="245.8" cy="862" r="3.8" fill="#000"/>
<circle cx="251.7" cy="862.5" r="3.8" fill="#000"/>
<circle cx="258.2" cy="861.7" r="3.8" fill="#000"/>
<circle cx="239.8" cy="868.5" r="3.8" fill="#000"/>
<circle cx="257.7" cy="871.7" r="3.8" fill="#000"/>
<circle cx="248.7" cy="873.1" r="3.8" fill="#000"/>
<circle cx="227.4" cy="874.9" r="3.8" fill="#000"/>
<circle cx="233.3" cy="881.8" r="3.8" fill="#000"/>
<circle cx="239.3" cy="883.2" r="3.8" fill="#000"/>
<circle cx="245.3" cy="883.6" r="3.8" fill="#000"/>
<circle cx="251.3" cy="883.6" r="3.8" fill="#000"/>
<circle cx="257.3" cy="883.2" r="3.8" fill="#000"/>
<circle cx="263.3" cy="882.3" r="3.8" fill="#000"/>
<circle cx="270.4" cy="880.4" r="3.8" fill="#000"/>
<circle cx="266.9" cy="885" r="3.8" fill="#000"/>
<circle cx="231.5" cy="891" r="3.8" fill="#000"/>
<circle cx="257.7" cy="891.5" r="3.8" fill="#000"/>
<circle cx="240.2" cy="893.8" r="3.8" fill="#000"/>
<circle cx="231.5" cy="897.5" r="3.8" fill="#000"/>
<circle cx="244.4" cy="896.5" r="3.8" fill="#000"/>
<circle cx="253.1" cy="896.5" r="3.8" fill="#000"/>
<circle cx="266" cy="897" r="3.8" fill="#000"/>
<circle cx="239.8" cy="899.3" r="3.8" fill="#000"/>
<circle cx="260.5" cy="900.2" r="3.8" fill="#000"/>
<circle cx="245.8" cy="903" r="3.8" fill="#000"/>
<circle cx="256.8" cy="903" r="3.8" fill="#000"/>
<circle cx="250.8" cy="905.7" r="3.8" fill="#000"/>
<circle cx="235.6" cy="894.6" r="3.8" fill="#000"/>
<circle cx="249" cy="900" r="3.8" fill="#000"/>
<circle cx="239.8" cy="909.9" r="3.8" fill="#000"/>
<circle cx="257.7" cy="910.8" r="3.8" fill="#000"/>
<circle cx="248.7" cy="916.3" r="3.8" fill="#000"/>
<circle cx="227.4" cy="932" r="3.8" fill="#000"/>
<circle cx="233.2" cy="932.7" r="3.8" fill="#000"/>
<circle cx="239.4" cy="935" r="3.8" fill="#000"/>
<circle cx="245.8" cy="938.2" r="3.8" fill="#000"/>
<circle cx="252" cy="937.8" r="3.8" fill="#000"/>
<circle cx="258" cy="934.3" r="3.8" fill="#000"/>
<circle cx="264.2" cy="932.5" r="3.8" fill="#000"/>
<circle cx="270.4" cy="929.7" r="3.8" fill="#000"/>
<circle cx="229" cy="941.2" r="3.8" fill="#000"/>
<circle cx="235" cy="945.8" r="3.8" fill="#000"/>
<circle cx="241.7" cy="948.1" r="3.8" fill="#000"/>
<circle cx="248.6" cy="949.3" r="3.8" fill="#000"/>
<circle cx="255" cy="947.4" r="3.8" fill="#000"/>
<circle cx="261.9" cy="944.2" r="3.8" fill="#000"/>
<circle cx="268.8" cy="940.1" r="3.8" fill="#000"/>
<circle cx="228.7" cy="920.1" r="3.8" fill="#000"/>
<circle cx="268.8" cy="919.2" r="3.8" fill="#000"/>
<circle cx="231.2" cy="920.34" r="3.8" fill="#000"/>
<circle cx="266.29" cy="919.53" r="3.8" fill="#000"/>
<circle cx="233.7" cy="920.82" r="3.8" fill="#000"/>
<circle cx="263.77" cy="920.14" r="3.8" fill="#000"/>
<circle cx="236.2" cy="921.47" r="3.8" fill="#000"/>
<circle cx="261.26" cy="920.92" r="3.8" fill="#000"/>
<circle cx="238.7" cy="922.28" r="3.8" fill="#000"/>
<circle cx="258.75" cy="921.85" r="3.8" fill="#000"/>
<circle cx="241.2" cy="923.21" r="3.8" fill="#000"/>
<circle cx="256.24" cy="922.91" r="3.8" fill="#000"/>
<circle cx="243.7" cy="924.27" r="3.8" fill="#000"/>
<circle cx="253.72" cy="924.07" r="3.8" fill="#000"/>
<circle cx="246.2" cy="925.43" r="3.8" fill="#000"/>
<circle cx="251.21" cy="925.34" r="3.8" fill="#000"/>
<circle cx="248.7" cy="926.7" r="3.8" fill="#000"/>
<circle cx="248.7" cy="926.7" r="3.8" fill="#000"/>
<circle cx="228.6" cy="962.4" r="3.8" fill="#000"/>
<circle cx="232.01" cy="962.4" r="3.8" fill="#000"/>
<circle cx="235.42" cy="962.4" r="3.8" fill="#000"/>
<circle cx="238.82" cy="962.4" r="3.8" fill="#000"/>
<circle cx="242.23" cy="962.4" r="3.8" fill="#000"/>
<circle cx="245.64" cy="962.4" r="3.8" fill="#000"/>
<circle cx="249.05" cy="962.4" r="3.8" fill="#000"/>
<circle cx="252.46" cy="962.4" r="3.8" fill="#000"/>
<circle cx="255.87" cy="962.4" r="3.8" fill="#000"/>
<circle cx="259.27" cy="962.4" r="3.8" fill="#000"/>
<circle cx="262.68" cy="962.4" r="3.8" fill="#000"/>
<circle cx="266.09" cy="962.4" r="3.8" fill="#000"/>
<circle cx="269.5" cy="962.4" r="3.8" fill="#000"/>
<line x1="224.4" y1="881.9" x2="273.4" y2="881.9" stroke="#000" stroke-width="1.7"/>
<text x="247.3" y="836.4" font-size="14.5" text-anchor="middle">***</text>
<text x="178.6" y="1029.2" font-size="13.35" font-style="italic">Hakimi et al., Cancer Cell</text>
<text x="362.2" y="808" font-size="17" font-weight="bold">F</text>
<line x1="397.5" y1="828.4" x2="397.5" y2="989.92" stroke="#000" stroke-width="2.4"/>
<line x1="392.7" y1="988.82" x2="613.4" y2="988.82" stroke="#000" stroke-width="2.3"/>
<line x1="392.7" y1="829.5" x2="397.5" y2="829.5" stroke="#000" stroke-width="2.1"/>
<text x="392.5" y="833.7" font-size="12" font-weight="bold" text-anchor="end" transform="translate(392.5 0) scale(0.86 1) translate(-392.5 0)">1000</text>
<line x1="394.8" y1="857.34" x2="397.5" y2="857.34" stroke="#000" stroke-width="1"/>
<line x1="394.8" y1="850.33" x2="397.5" y2="850.33" stroke="#000" stroke-width="1"/>
<line x1="394.8" y1="845.35" x2="397.5" y2="845.35" stroke="#000" stroke-width="1"/>
<line x1="394.8" y1="841.49" x2="397.5" y2="841.49" stroke="#000" stroke-width="1"/>
<line x1="394.8" y1="838.34" x2="397.5" y2="838.34" stroke="#000" stroke-width="1"/>
<line x1="394.8" y1="835.67" x2="397.5" y2="835.67" stroke="#000" stroke-width="1"/>
<line x1="394.8" y1="833.36" x2="397.5" y2="833.36" stroke="#000" stroke-width="1"/>
<line x1="394.8" y1="831.32" x2="397.5" y2="831.32" stroke="#000" stroke-width="1"/>
<line x1="392.7" y1="869.33" x2="397.5" y2="869.33" stroke="#000" stroke-width="2.1"/>
<text x="392.5" y="873.53" font-size="12" font-weight="bold" text-anchor="end" transform="translate(392.5 0) scale(0.86 1) translate(-392.5 0)">100</text>
<line x1="394.8" y1="897.17" x2="397.5" y2="897.17" stroke="#000" stroke-width="1"/>
<line x1="394.8" y1="890.16" x2="397.5" y2="890.16" stroke="#000" stroke-width="1"/>
<line x1="394.8" y1="885.18" x2="397.5" y2="885.18" stroke="#000" stroke-width="1"/>
<line x1="394.8" y1="881.32" x2="397.5" y2="881.32" stroke="#000" stroke-width="1"/>
<line x1="394.8" y1="878.17" x2="397.5" y2="878.17" stroke="#000" stroke-width="1"/>
<line x1="394.8" y1="875.5" x2="397.5" y2="875.5" stroke="#000" stroke-width="1"/>
<line x1="394.8" y1="873.19" x2="397.5" y2="873.19" stroke="#000" stroke-width="1"/>
<line x1="394.8" y1="871.15" x2="397.5" y2="871.15" stroke="#000" stroke-width="1"/>
<line x1="392.7" y1="909.16" x2="397.5" y2="909.16" stroke="#000" stroke-width="2.1"/>
<text x="392.5" y="913.36" font-size="12" font-weight="bold" text-anchor="end" transform="translate(392.5 0) scale(0.86 1) translate(-392.5 0)">10</text>
<line x1="394.8" y1="937" x2="397.5" y2="937" stroke="#000" stroke-width="1"/>
<line x1="394.8" y1="929.99" x2="397.5" y2="929.99" stroke="#000" stroke-width="1"/>
<line x1="394.8" y1="925.01" x2="397.5" y2="925.01" stroke="#000" stroke-width="1"/>
<line x1="394.8" y1="921.15" x2="397.5" y2="921.15" stroke="#000" stroke-width="1"/>
<line x1="394.8" y1="918" x2="397.5" y2="918" stroke="#000" stroke-width="1"/>
<line x1="394.8" y1="915.33" x2="397.5" y2="915.33" stroke="#000" stroke-width="1"/>
<line x1="394.8" y1="913.02" x2="397.5" y2="913.02" stroke="#000" stroke-width="1"/>
<line x1="394.8" y1="910.98" x2="397.5" y2="910.98" stroke="#000" stroke-width="1"/>
<line x1="392.7" y1="948.99" x2="397.5" y2="948.99" stroke="#000" stroke-width="2.1"/>
<text x="392.5" y="953.19" font-size="12" font-weight="bold" text-anchor="end" transform="translate(392.5 0) scale(0.86 1) translate(-392.5 0)">1</text>
<line x1="394.8" y1="976.83" x2="397.5" y2="976.83" stroke="#000" stroke-width="1"/>
<line x1="394.8" y1="969.82" x2="397.5" y2="969.82" stroke="#000" stroke-width="1"/>
<line x1="394.8" y1="964.84" x2="397.5" y2="964.84" stroke="#000" stroke-width="1"/>
<line x1="394.8" y1="960.98" x2="397.5" y2="960.98" stroke="#000" stroke-width="1"/>
<line x1="394.8" y1="957.83" x2="397.5" y2="957.83" stroke="#000" stroke-width="1"/>
<line x1="394.8" y1="955.16" x2="397.5" y2="955.16" stroke="#000" stroke-width="1"/>
<line x1="394.8" y1="952.85" x2="397.5" y2="952.85" stroke="#000" stroke-width="1"/>
<line x1="394.8" y1="950.81" x2="397.5" y2="950.81" stroke="#000" stroke-width="1"/>
<line x1="392.7" y1="988.82" x2="397.5" y2="988.82" stroke="#000" stroke-width="2.1"/>
<text x="392.5" y="993.02" font-size="12" font-weight="bold" text-anchor="end" transform="translate(392.5 0) scale(0.86 1) translate(-392.5 0)">0.1</text>
<text transform="translate(366.7 902.1) rotate(-90) scale(0.91 1)" font-size="14.1" font-weight="bold" text-anchor="middle" >GSH Levels</text>
<line x1="433.9" y1="988.6" x2="433.9" y2="993.1" stroke="#000" stroke-width="2"/>
<text x="434.2" y="1007.5" font-size="12" font-weight="bold" text-anchor="middle" transform="translate(434.2 0) scale(0.93 1) translate(-434.2 0)">Normal</text>
<line x1="505.7" y1="988.6" x2="505.7" y2="993.1" stroke="#000" stroke-width="2"/>
<text x="505.7" y="1007.5" font-size="12" font-weight="bold" text-anchor="middle" transform="translate(505.7 0) scale(0.93 1) translate(-505.7 0)">Stage 1/2</text>
<line x1="577.2" y1="988.6" x2="577.2" y2="993.1" stroke="#000" stroke-width="2"/>
<text x="577.2" y="1007.5" font-size="12" font-weight="bold" text-anchor="middle" transform="translate(577.2 0) scale(0.93 1) translate(-577.2 0)">Stage 3/4</text>
<ellipse cx="434" cy="933.1" rx="2.8" ry="3.15" fill="#fff" stroke="#000" stroke-width="1.5"/>
<ellipse cx="429.7" cy="947.1" rx="2.8" ry="3.15" fill="#fff" stroke="#000" stroke-width="1.5"/>
<ellipse cx="438.3" cy="949.1" rx="2.8" ry="3.15" fill="#fff" stroke="#000" stroke-width="1.5"/>
<ellipse cx="455.2" cy="949.8" rx="2.8" ry="3.15" fill="#fff" stroke="#000" stroke-width="1.5"/>
<ellipse cx="413.1" cy="953.1" rx="2.8" ry="3.15" fill="#fff" stroke="#000" stroke-width="1.5"/>
<ellipse cx="419.3" cy="953.3" rx="2.8" ry="3.15" fill="#fff" stroke="#000" stroke-width="1.5"/>
<ellipse cx="449" cy="953.3" rx="2.8" ry="3.15" fill="#fff" stroke="#000" stroke-width="1.5"/>
<ellipse cx="443.2" cy="952.6" rx="2.8" ry="3.15" fill="#fff" stroke="#000" stroke-width="1.5"/>
<ellipse cx="424.8" cy="956.7" rx="2.8" ry="3.15" fill="#fff" stroke="#000" stroke-width="1.5"/>
<ellipse cx="430.8" cy="959.5" rx="2.8" ry="3.15" fill="#fff" stroke="#000" stroke-width="1.5"/>
<ellipse cx="437.2" cy="956.7" rx="2.8" ry="3.15" fill="#fff" stroke="#000" stroke-width="1.5"/>
<ellipse cx="421.1" cy="963.6" rx="2.8" ry="3.15" fill="#fff" stroke="#000" stroke-width="1.5"/>
<ellipse cx="446.9" cy="966.4" rx="2.8" ry="3.15" fill="#fff" stroke="#000" stroke-width="1.5"/>
<ellipse cx="429.7" cy="969.6" rx="2.8" ry="3.15" fill="#fff" stroke="#000" stroke-width="1.5"/>
<ellipse cx="438.3" cy="970.1" rx="2.8" ry="3.15" fill="#fff" stroke="#000" stroke-width="1.5"/>
<ellipse cx="416.5" cy="981.1" rx="2.8" ry="3.15" fill="#fff" stroke="#000" stroke-width="1.5"/>
<ellipse cx="425.2" cy="981.1" rx="2.8" ry="3.15" fill="#fff" stroke="#000" stroke-width="1.5"/>
<ellipse cx="434" cy="981.1" rx="2.8" ry="3.15" fill="#fff" stroke="#000" stroke-width="1.5"/>
<ellipse cx="442.5" cy="981.1" rx="2.8" ry="3.15" fill="#fff" stroke="#000" stroke-width="1.5"/>
<ellipse cx="451.3" cy="981.1" rx="2.8" ry="3.15" fill="#fff" stroke="#000" stroke-width="1.5"/>
<line x1="410.3" y1="956.9" x2="457.9" y2="956.9" stroke="#000" stroke-width="2.1"/>
<line x1="423" y1="954.4" x2="444.6" y2="954.4" stroke="#000" stroke-width="1.2"/>
<line x1="423" y1="960.4" x2="446" y2="960.4" stroke="#000" stroke-width="1.2"/>
<ellipse cx="496.8" cy="865.1" rx="3.5" ry="4.05" fill="#000"/>
<ellipse cx="514.2" cy="862.8" rx="3.5" ry="4.05" fill="#000"/>
<ellipse cx="505.6" cy="869.3" rx="3.5" ry="4.05" fill="#000"/>
<ellipse cx="510.1" cy="929.4" rx="3.5" ry="4.05" fill="#000"/>
<ellipse cx="501" cy="937.2" rx="3.5" ry="4.05" fill="#000"/>
<ellipse cx="514.2" cy="940.5" rx="3.5" ry="4.05" fill="#000"/>
<ellipse cx="496.8" cy="945.4" rx="3.5" ry="4.05" fill="#000"/>
<ellipse cx="505.7" cy="948.8" rx="3.5" ry="4.05" fill="#000"/>
<ellipse cx="488.6" cy="981" rx="3.5" ry="4.05" fill="#000"/>
<ellipse cx="496.8" cy="981" rx="3.5" ry="4.05" fill="#000"/>
<ellipse cx="505.7" cy="981" rx="3.5" ry="4.05" fill="#000"/>
<ellipse cx="514.2" cy="981" rx="3.5" ry="4.05" fill="#000"/>
<ellipse cx="522.5" cy="981" rx="3.5" ry="4.05" fill="#000"/>
<line x1="482" y1="890.4" x2="529.7" y2="890.4" stroke="#000" stroke-width="2.3"/>
<line x1="493.3" y1="883.1" x2="517.9" y2="883.1" stroke="#000" stroke-width="1.7"/>
<line x1="493.3" y1="903" x2="517.9" y2="903" stroke="#000" stroke-width="1.7"/>
<line x1="505.8" y1="883.1" x2="505.8" y2="903" stroke="#000" stroke-width="1.5"/>
<text x="497.2" y="840.6" font-size="13">n.s.</text>
<ellipse cx="577.2" cy="837.5" rx="3.5" ry="4.05" fill="#000"/>
<ellipse cx="577.2" cy="851.3" rx="3.5" ry="4.05" fill="#000"/>
<ellipse cx="577.2" cy="862.6" rx="3.5" ry="4.05" fill="#000"/>
<ellipse cx="577.2" cy="933.6" rx="3.5" ry="4.05" fill="#000"/>
<ellipse cx="572.8" cy="952" rx="3.5" ry="4.05" fill="#000"/>
<ellipse cx="581.6" cy="955.7" rx="3.5" ry="4.05" fill="#000"/>
<ellipse cx="577.2" cy="981" rx="3.5" ry="4.05" fill="#000"/>
<line x1="552.9" y1="861.8" x2="601.2" y2="861.8" stroke="#000" stroke-width="2.2"/>
<line x1="564.5" y1="853.5" x2="590.2" y2="853.5" stroke="#000" stroke-width="1.5"/>
<line x1="564.5" y1="877.5" x2="590.2" y2="877.5" stroke="#000" stroke-width="1.5"/>
<line x1="577.2" y1="853.5" x2="577.2" y2="877.5" stroke="#000" stroke-width="1.5"/>
<text x="577.7" y="824.8" font-size="14.5" text-anchor="middle">*</text>
<text x="642.2" y="1029.8" font-size="13.35" font-style="italic" text-anchor="end">Li et al., Nature</text>
</g>
</svg>
</body>
</html>
